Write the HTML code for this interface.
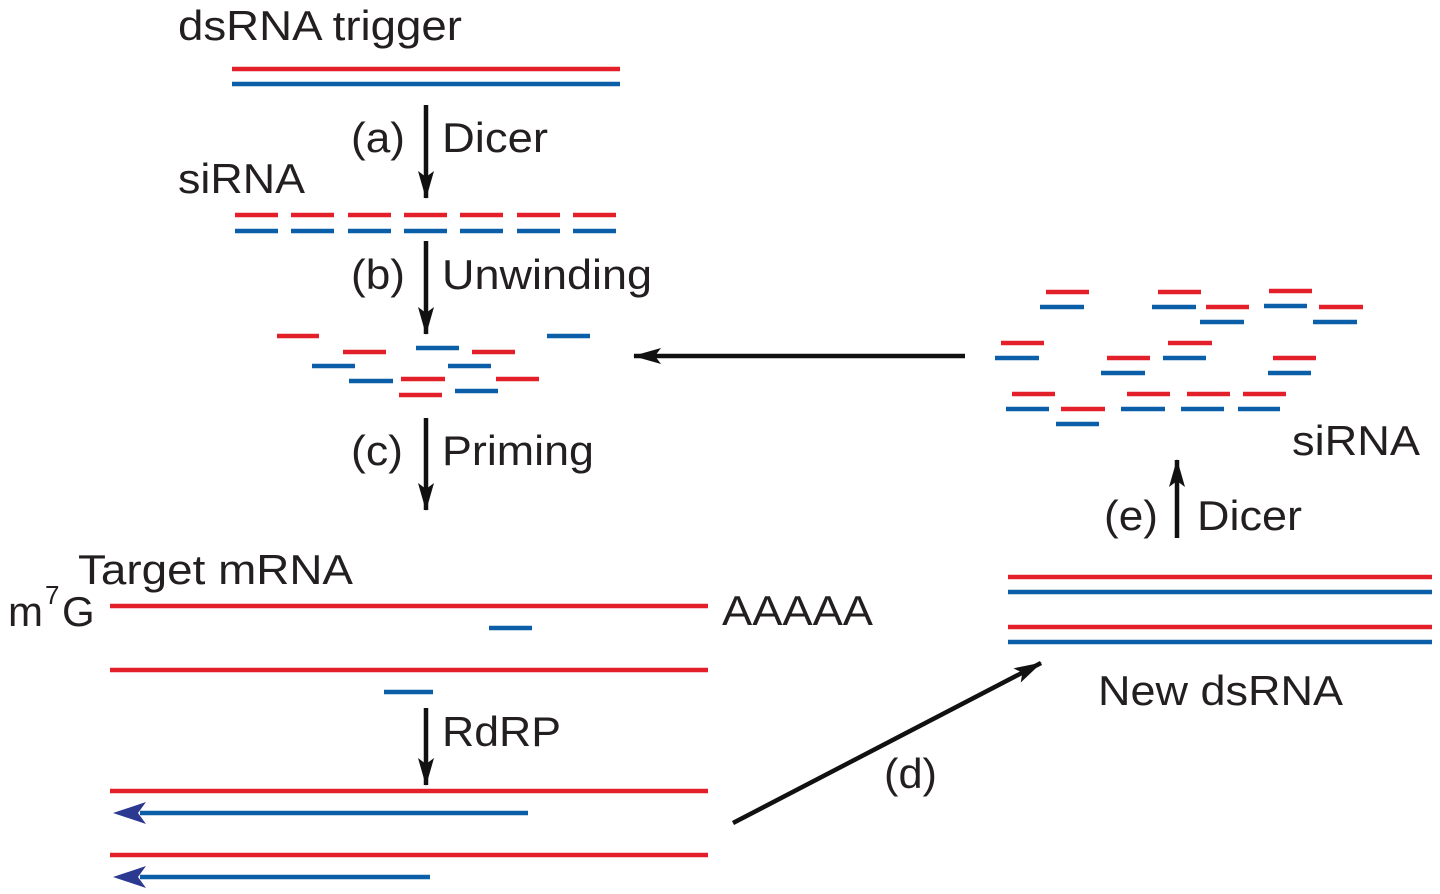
<!DOCTYPE html>
<html><head><meta charset="utf-8"><style>html,body{margin:0;padding:0;background:#fff}svg{display:block}</style></head>
<body>
<svg width="1440" height="894" viewBox="0 0 1440 894" xmlns="http://www.w3.org/2000/svg" font-family="Liberation Sans, Arial, sans-serif" font-size="42" fill="#231f20">
<defs>
<marker id="ah" viewBox="0 0 28 16" refX="27" refY="8" markerWidth="28" markerHeight="16" markerUnits="userSpaceOnUse" orient="auto"><path d="M0,0 L28,8 L0,16 L6,8 z" fill="#111"/></marker>
</defs>
<g stroke-width="4.5" fill="none">
<line x1="232" y1="69" x2="620" y2="69" stroke="#e3202a"/>
<line x1="232" y1="84" x2="620" y2="84" stroke="#0b5ea8"/>
<g stroke="#e3202a">
<line x1="235" y1="215" x2="278" y2="215"/><line x1="291" y1="215" x2="334" y2="215"/><line x1="348" y1="215" x2="391" y2="215"/><line x1="404" y1="215" x2="447" y2="215"/><line x1="460" y1="215" x2="503" y2="215"/><line x1="517" y1="215" x2="560" y2="215"/><line x1="573" y1="215" x2="616" y2="215"/>
</g>
<g stroke="#0b5ea8">
<line x1="235" y1="231" x2="278" y2="231"/><line x1="291" y1="231" x2="334" y2="231"/><line x1="348" y1="231" x2="391" y2="231"/><line x1="404" y1="231" x2="447" y2="231"/><line x1="460" y1="231" x2="503" y2="231"/><line x1="517" y1="231" x2="560" y2="231"/><line x1="573" y1="231" x2="616" y2="231"/>
</g>
<g stroke="#e3202a">
<line x1="277" y1="336" x2="319" y2="336"/><line x1="343" y1="352" x2="386" y2="352"/><line x1="472" y1="352" x2="515" y2="352"/><line x1="401" y1="379" x2="445" y2="379"/><line x1="496" y1="379" x2="539" y2="379"/><line x1="399" y1="395" x2="442" y2="395"/>
</g>
<g stroke="#0b5ea8">
<line x1="547" y1="336" x2="590" y2="336"/><line x1="416" y1="348" x2="459" y2="348"/><line x1="312" y1="366" x2="355" y2="366"/><line x1="448" y1="366" x2="491" y2="366"/><line x1="349" y1="381" x2="393" y2="381"/><line x1="455" y1="391" x2="498" y2="391"/>
</g>
<g stroke="#e3202a">
<line x1="1046" y1="292" x2="1089" y2="292"/><line x1="1158" y1="292" x2="1201" y2="292"/><line x1="1206" y1="307" x2="1249" y2="307"/><line x1="1269" y1="291" x2="1312" y2="291"/><line x1="1319" y1="307" x2="1363" y2="307"/>
<line x1="1001" y1="343" x2="1044" y2="343"/><line x1="1168" y1="343" x2="1212" y2="343"/><line x1="1107" y1="358" x2="1150" y2="358"/><line x1="1273" y1="358" x2="1316" y2="358"/>
<line x1="1012" y1="394" x2="1055" y2="394"/><line x1="1061" y1="409" x2="1105" y2="409"/><line x1="1127" y1="394" x2="1170" y2="394"/><line x1="1187" y1="394" x2="1230" y2="394"/><line x1="1243" y1="394" x2="1286" y2="394"/>
</g>
<g stroke="#0b5ea8">
<line x1="1040" y1="307" x2="1084" y2="307"/><line x1="1152" y1="307" x2="1196" y2="307"/><line x1="1200" y1="322" x2="1244" y2="322"/><line x1="1264" y1="306" x2="1307" y2="306"/><line x1="1313" y1="322" x2="1357" y2="322"/>
<line x1="995" y1="358" x2="1039" y2="358"/><line x1="1163" y1="358" x2="1206" y2="358"/><line x1="1101" y1="373" x2="1145" y2="373"/><line x1="1268" y1="373" x2="1311" y2="373"/>
<line x1="1006" y1="409" x2="1049" y2="409"/><line x1="1056" y1="424" x2="1099" y2="424"/><line x1="1121" y1="409" x2="1165" y2="409"/><line x1="1181" y1="409" x2="1224" y2="409"/><line x1="1238" y1="409" x2="1280" y2="409"/>
</g>
<line x1="110" y1="606" x2="708" y2="606" stroke="#e3202a"/>
<line x1="489" y1="628" x2="532" y2="628" stroke="#0b5ea8"/>
<line x1="110" y1="670" x2="708" y2="670" stroke="#e3202a"/>
<line x1="384" y1="692" x2="433" y2="692" stroke="#0b5ea8"/>
<line x1="110" y1="791" x2="708" y2="791" stroke="#e3202a"/>
<line x1="140" y1="813" x2="528" y2="813" stroke="#0b5ea8"/>
<line x1="110" y1="855" x2="708" y2="855" stroke="#e3202a"/>
<line x1="140" y1="877" x2="430" y2="877" stroke="#0b5ea8"/>
<line x1="1008" y1="577" x2="1432" y2="577" stroke="#e3202a"/>
<line x1="1008" y1="592" x2="1432" y2="592" stroke="#0b5ea8"/>
<line x1="1008" y1="627" x2="1432" y2="627" stroke="#e3202a"/>
<line x1="1008" y1="642" x2="1432" y2="642" stroke="#0b5ea8"/>
</g>
<path d="M113,813 L146,802 L138,813 L146,824 z" fill="#2b3990"/>
<path d="M113,877 L146,866 L138,877 L146,888 z" fill="#2b3990"/>
<g stroke="#111" stroke-width="4.5" fill="none" marker-end="url(#ah)">
<line x1="426" y1="105" x2="426" y2="198"/>
<line x1="426" y1="241" x2="426" y2="334"/>
<line x1="426" y1="418" x2="426" y2="510"/>
<line x1="426" y1="708" x2="426" y2="785"/>
<line x1="965" y1="356" x2="634" y2="356"/>
<line x1="733" y1="823" x2="1041" y2="663"/>
<line x1="1177" y1="538" x2="1177" y2="460"/>
</g>
<text x="178" y="40" textLength="284" lengthAdjust="spacingAndGlyphs">dsRNA trigger</text>
<text x="351" y="152" textLength="54" lengthAdjust="spacingAndGlyphs">(a)</text><text x="442" y="152" textLength="106" lengthAdjust="spacingAndGlyphs">Dicer</text>
<text x="178" y="193" textLength="127" lengthAdjust="spacingAndGlyphs">siRNA</text>
<text x="351" y="289" textLength="54" lengthAdjust="spacingAndGlyphs">(b)</text><text x="442" y="289" textLength="210" lengthAdjust="spacingAndGlyphs">Unwinding</text>
<text x="351" y="465" textLength="52" lengthAdjust="spacingAndGlyphs">(c)</text><text x="442" y="465" textLength="152" lengthAdjust="spacingAndGlyphs">Priming</text>
<text x="78" y="584" textLength="275" lengthAdjust="spacingAndGlyphs">Target mRNA</text>
<text x="8" y="626">m</text><text x="45" y="604" font-size="26">7</text><text x="62" y="626">G</text>
<text x="722" y="625" textLength="151" lengthAdjust="spacingAndGlyphs">AAAAA</text>
<text x="442" y="746" textLength="119" lengthAdjust="spacingAndGlyphs">RdRP</text>
<text x="884" y="788" textLength="53" lengthAdjust="spacingAndGlyphs">(d)</text>
<text x="1098" y="705" textLength="245" lengthAdjust="spacingAndGlyphs">New dsRNA</text>
<text x="1104" y="530" textLength="54" lengthAdjust="spacingAndGlyphs">(e)</text><text x="1197" y="530" textLength="105" lengthAdjust="spacingAndGlyphs">Dicer</text>
<text x="1292" y="455" textLength="128" lengthAdjust="spacingAndGlyphs">siRNA</text>
</svg>
</body></html>
